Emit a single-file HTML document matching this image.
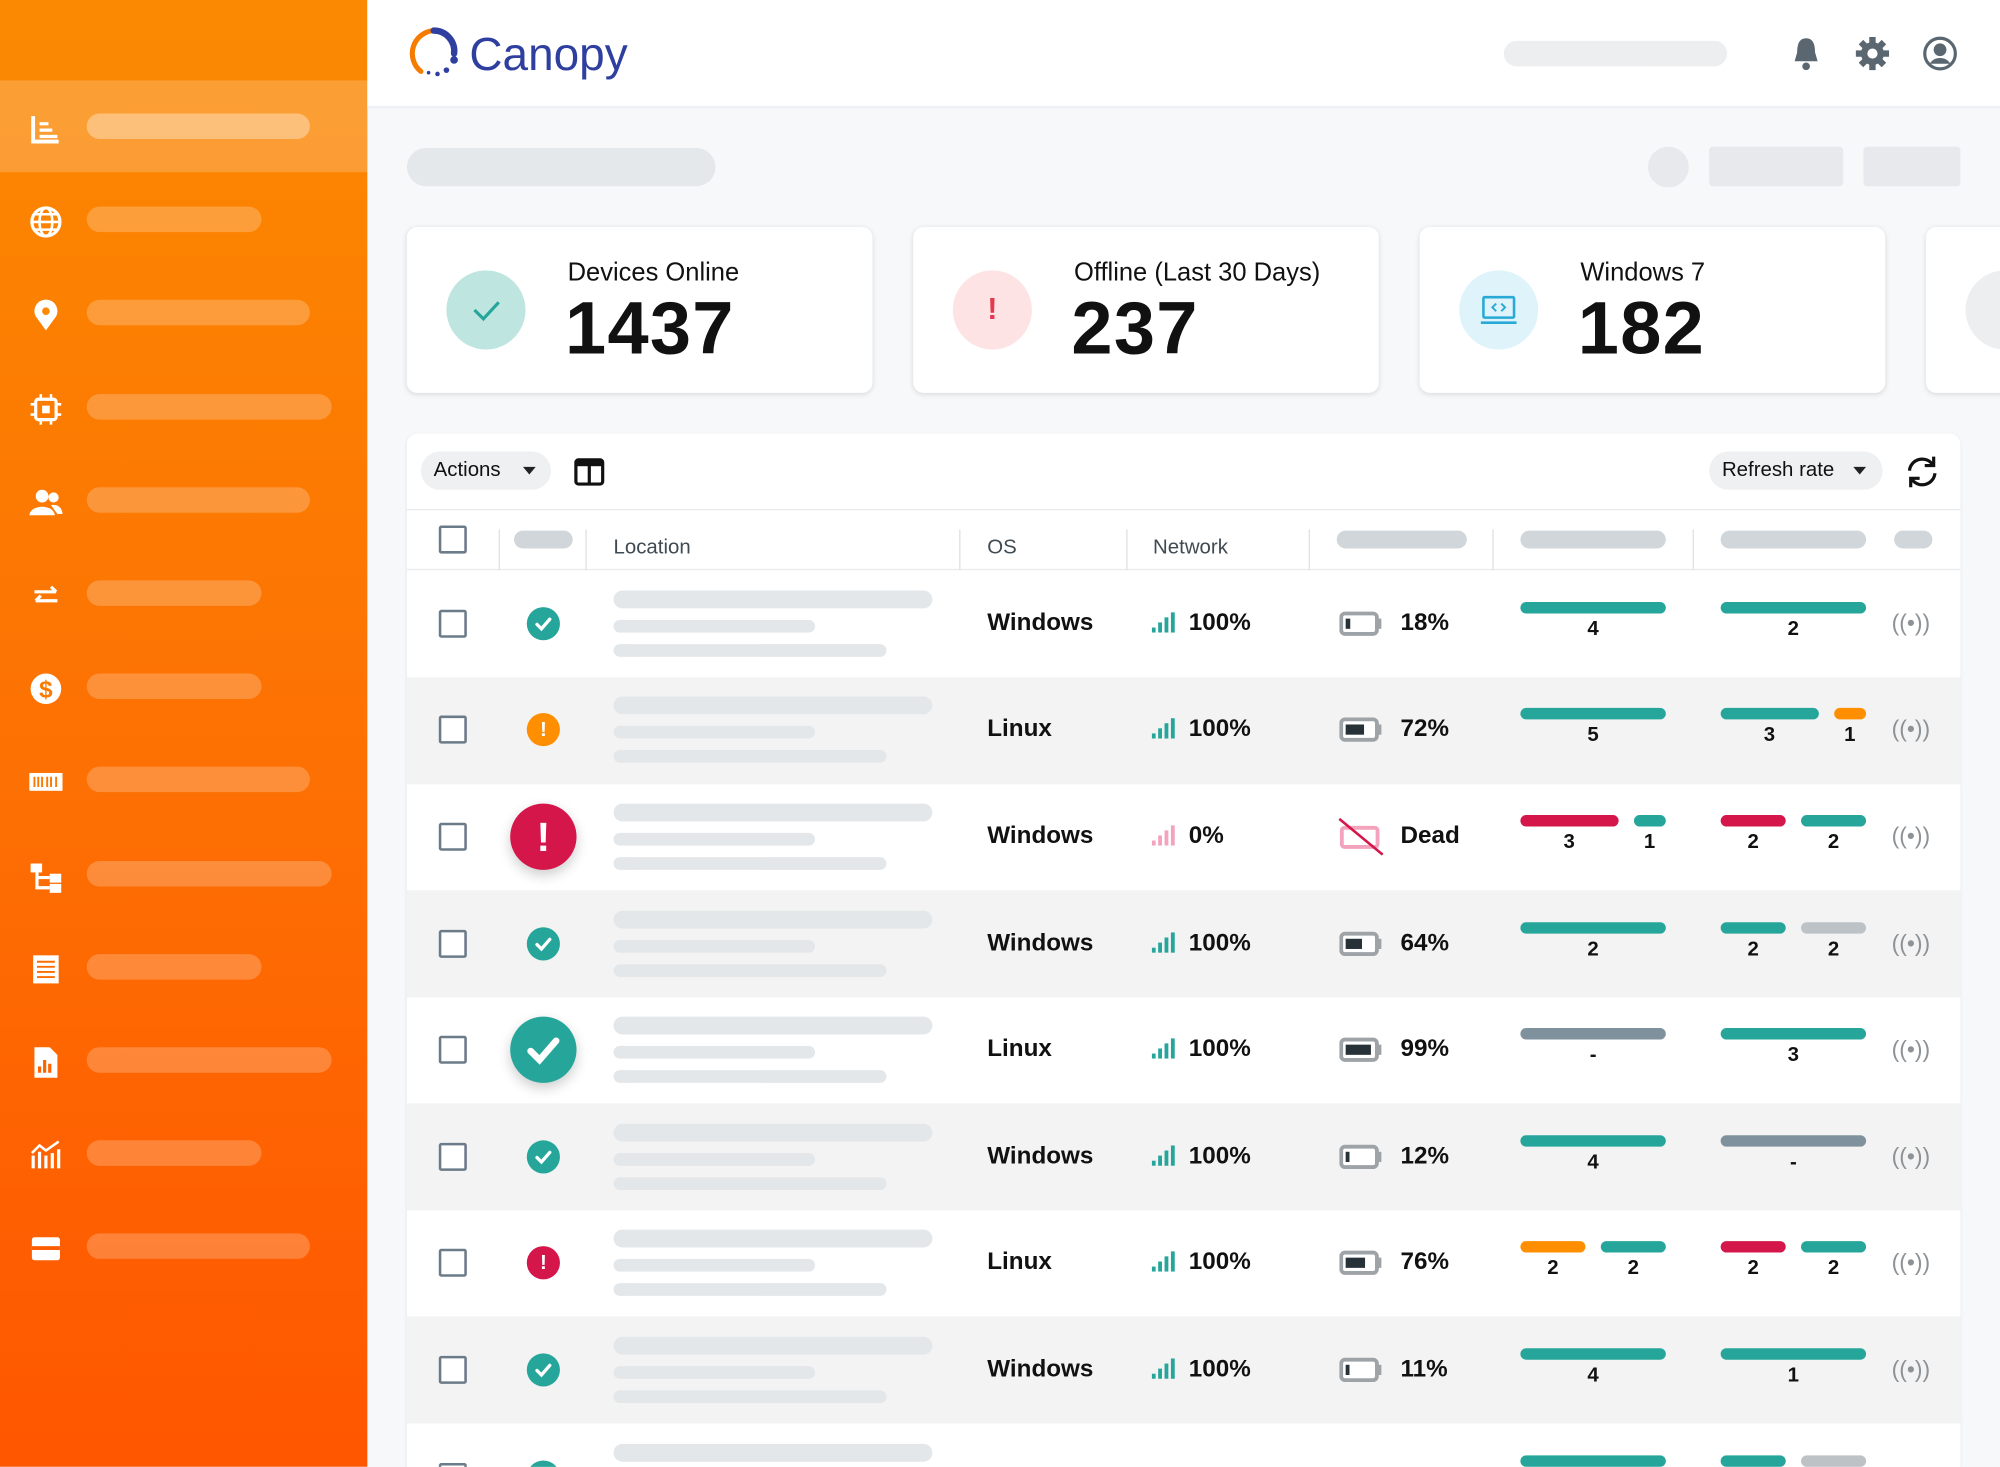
<!DOCTYPE html>
<html><head><meta charset="utf-8">
<style>
html,body{margin:0;padding:0;width:2000px;height:1467px;overflow:hidden;background:#f7f8fa;font-family:"Liberation Sans",sans-serif;}
#root{position:absolute;left:0;top:0;width:1568px;height:1150px;transform:scale(1.27551);transform-origin:0 0;background:#f7f8fa;overflow:hidden}
.abs{position:absolute}
.pill{position:absolute;border-radius:12px}
#side{position:absolute;left:0;top:0;width:288px;height:1150px;background:linear-gradient(180deg,#fb8a02 0%,#fd6f03 55%,#ff5600 100%)}
.mi{position:absolute;left:0;width:288px;height:40px}
.mi svg{position:absolute;left:22px;top:8px}
.mi .pill{left:68px;top:10px;height:20px;background:rgba(255,255,255,0.22);border-radius:10px}
#hdr{position:absolute;left:288px;top:0;width:1280px;height:83px;background:#fff;border-bottom:2px solid #eef0f3}
.card{position:absolute;top:178px;width:365px;height:130px;background:#fff;border-radius:8px;box-shadow:0 1px 4px rgba(0,0,0,0.12)}
.card .ic{position:absolute;left:31px;top:34px;width:62px;height:62px;border-radius:50%}
.card .t{position:absolute;left:126px;top:25px;font-size:20px;color:#111}
.card .n{position:absolute;left:124px;top:46px;font-size:58px;font-weight:bold;color:#111;letter-spacing:1px}
#panel{position:absolute;left:319px;top:340px;width:1218px;height:830px;background:#fff;border-radius:8px;box-shadow:0 1px 3px rgba(0,0,0,0.08);overflow:hidden}
.row{position:absolute;left:0;width:1218px;height:84px}
.cb{position:absolute;width:18px;height:18px;border:2.5px solid #6b7b88;border-radius:2px}
.txt{position:absolute;font-size:19px;font-weight:bold;color:#111;transform:translateY(-50%)}
.sk{position:absolute;background:#e4e7ea;border-radius:8px}
.hs{position:absolute;top:16px;width:1px;height:32px;background:#dde1e4}
.ht{position:absolute;top:22px;font-size:16px;color:#3f4a52}
</style></head><body>
<div id="root">
<div id="side">
  <div class="abs" style="left:0;top:63px;width:288px;height:72px;background:rgba(255,255,255,0.2)"></div>
</div>
<div id="hdr">
  <div class="abs" style="left:30px;top:18px">
    <svg width="48" height="48" viewBox="0 0 48 48"><path d="M12 38 A18 18 0 0 1 22 6" stroke="#f57c00" stroke-width="4" fill="none" stroke-linecap="round"/><path d="M22 6 A16 16 0 0 1 38 24" stroke="#2f3fa0" stroke-width="5" fill="none" stroke-linecap="round"/><circle cx="38" cy="29" r="3" fill="#2f3fa0"/><circle cx="32" cy="37" r="2.2" fill="#2f3fa0"/><circle cx="25" cy="40" r="1.8" fill="#2f3fa0"/><circle cx="18" cy="39" r="1.4" fill="#2f3fa0"/></svg>
    <span class="abs" style="left:50px;top:4px;font-size:36px;color:#2f3fa0;white-space:nowrap">Canopy</span>
  </div>
  <div class="pill" style="left:891px;top:32px;width:175px;height:20px;background:#eceef0;border-radius:10px"></div>
  <svg class="abs" style="left:1116px;top:28px" width="24" height="28" viewBox="0 0 24 28"><path d="M12 2 C6 2 5 8 5 13 L3 20 H21 L19 13 C19 8 18 2 12 2Z" fill="#5a6670"/><circle cx="12" cy="24" r="3" fill="#5a6670"/></svg>
  <svg class="abs" style="left:1166px;top:28px" width="28" height="28" viewBox="0 0 28 28"><circle cx="14" cy="14" r="9" fill="#5a6670"/><g stroke="#5a6670" stroke-width="5"><line x1="14" y1="1" x2="14" y2="27"/><line x1="1" y1="14" x2="27" y2="14"/><line x1="5" y1="5" x2="23" y2="23"/><line x1="23" y1="5" x2="5" y2="23"/></g><circle cx="14" cy="14" r="4" fill="#fff"/></svg>
  <svg class="abs" style="left:1219px;top:28px" width="28" height="28" viewBox="0 0 28 28"><circle cx="14" cy="14" r="12" fill="none" stroke="#5a6670" stroke-width="2.5"/><circle cx="14" cy="11" r="5" fill="#5a6670"/><path d="M6 22 C9 16 19 16 22 22" fill="#5a6670"/></svg>
</div>
<div class="pill" style="left:319px;top:116px;width:242px;height:30px;background:#e5e8eb;border-radius:15px"></div>
<div class="abs" style="left:1292px;top:115px;width:32px;height:32px;border-radius:50%;background:#e7e9ec"></div>
<div class="abs" style="left:1340px;top:115px;width:105px;height:31px;background:#e7e9ec;border-radius:3px"></div>
<div class="abs" style="left:1461px;top:115px;width:76px;height:31px;background:#e7e9ec;border-radius:3px"></div>

<div class="card" style="left:319px">
  <div class="ic" style="background:#bfe5e1"><svg width="62" height="62"><path d="M22 31 L29 38 L41 25" stroke="#26a69a" stroke-width="2.5" fill="none"/></svg></div>
  <div class="t">Devices Online</div><div class="n">1437</div></div>
<div class="card" style="left:716px">
  <div class="ic" style="background:#fde3e3"><span class="abs" style="left:27px;top:17px;font-size:24px;font-weight:bold;color:#e53950">!</span></div>
  <div class="t">Offline (Last 30 Days)</div><div class="n">237</div></div>
<div class="card" style="left:1113px">
  <div class="ic" style="background:#dff3fb"><svg width="62" height="62"><rect x="19" y="21" width="24" height="16" rx="1" fill="none" stroke="#29a9d6" stroke-width="2"/><line x1="17" y1="41" x2="45" y2="41" stroke="#29a9d6" stroke-width="2"/><path d="M29 26 L26 29 L29 32 M33 26 L36 29 L33 32" stroke="#29a9d6" stroke-width="1.5" fill="none"/></svg></div>
  <div class="t">Windows 7</div><div class="n">182</div></div>
<div class="card" style="left:1510px">
  <div class="ic" style="background:#eceef0"></div></div>

<div id="panel">
  <div class="abs" style="left:11px;top:14px;width:102px;height:30px;background:#eef0f2;border-radius:15px">
    <span class="abs" style="left:10px;top:6px;font-size:16px;color:#111">Actions</span>
    <span class="abs" style="left:80px;top:12px;width:0;height:0;border-left:5px solid transparent;border-right:5px solid transparent;border-top:6px solid #222"></span>
  </div>
  <svg class="abs" style="left:131px;top:19px" width="24" height="22"><rect x="1.5" y="1.5" width="21" height="19" rx="2" fill="none" stroke="#111" stroke-width="2.5"/><rect x="1.5" y="1.5" width="21" height="5" fill="#111"/><line x1="12" y1="3" x2="12" y2="20" stroke="#111" stroke-width="2.5"/></svg>
  <div class="abs" style="left:1021px;top:14px;width:136px;height:30px;background:#eef0f2;border-radius:15px">
    <span class="abs" style="left:10px;top:6px;font-size:16px;color:#111">Refresh rate</span>
    <span class="abs" style="left:113px;top:12px;width:0;height:0;border-left:5px solid transparent;border-right:5px solid transparent;border-top:6px solid #222"></span>
  </div>
  <svg class="abs" style="left:1174px;top:16px" width="28" height="28" viewBox="0 0 28 28"><path d="M4 13 A10 10 0 0 1 22 8" stroke="#111" stroke-width="2.5" fill="none"/><path d="M23 2 V9 H16" stroke="#111" stroke-width="2.5" fill="none"/><path d="M24 15 A10 10 0 0 1 6 20" stroke="#111" stroke-width="2.5" fill="none"/><path d="M5 26 V19 H12" stroke="#111" stroke-width="2.5" fill="none"/></svg>
  <div class="abs" style="left:0;top:59px;width:1218px;height:1px;background:#e8eaec"></div>
  <div class="abs" id="thead" style="left:0;top:59px;width:1218px;height:47px;border-bottom:1px solid #e8eaec">
    <div class="cb" style="left:25px;top:13px;background:#fff"></div>
    <div class="hs" style="left:72px"></div>
    <div class="sk" style="left:84px;top:17px;width:46px;height:14px;background:#d0d6da"></div>
    <div class="hs" style="left:140px"></div>
    <div class="ht" style="left:162px">Location</div>
    <div class="hs" style="left:433px"></div>
    <div class="ht" style="left:455px">OS</div>
    <div class="hs" style="left:564px"></div>
    <div class="ht" style="left:585px">Network</div>
    <div class="hs" style="left:707px"></div>
    <div class="sk" style="left:729px;top:17px;width:102px;height:14px;background:#d0d6da"></div>
    <div class="hs" style="left:851px"></div>
    <div class="sk" style="left:873px;top:17px;width:114px;height:14px;background:#d0d6da"></div>
    <div class="hs" style="left:1008px"></div>
    <div class="sk" style="left:1030px;top:17px;width:114px;height:14px;background:#d0d6da"></div>
    <div class="sk" style="left:1166px;top:17px;width:30px;height:14px;background:#d0d6da"></div>
  </div>
  <div id="tbody"></div>
</div>
</div>
<script>
// sidebar menu
const menuWidths=[175,137,175,192,175,137,137,175,192,137,192,137,175];
const side=document.getElementById('side');
const icons=[
'<path d="M4 4 V24 H24" stroke="#fff" stroke-width="3" fill="none"/><path d="M9 10 H16 M9 15 H19 M9 20 H23" stroke="#fff" stroke-width="2.5"/>',
'<circle cx="14" cy="14" r="11" stroke="#fff" stroke-width="2.5" fill="none"/><ellipse cx="14" cy="14" rx="5" ry="11" stroke="#fff" stroke-width="2" fill="none"/><path d="M3 14 H25 M5 8 H23 M5 20 H23" stroke="#fff" stroke-width="2"/>',
'<path d="M14 26 L6 15 A9 9 0 1 1 22 15 Z" fill="#fff"/><circle cx="14" cy="11" r="3" fill="#fb8a02"/>',
'<rect x="6" y="6" width="16" height="16" rx="2" stroke="#fff" stroke-width="2.5" fill="none"/><rect x="11" y="11" width="6" height="6" fill="#fff"/><path d="M10 2V6 M18 2V6 M10 22V26 M18 22V26 M2 10H6 M2 18H6 M22 10H26 M22 18H26" stroke="#fff" stroke-width="2"/>',
'<circle cx="11" cy="9" r="5" fill="#fff"/><circle cx="20" cy="10" r="4" fill="#fff"/><path d="M1 24 C2 15 20 15 21 24Z M18 16 C24 15 27 19 27 23 H23" fill="#fff"/>',
'<path d="M5 11 H22 M18 7 L22 11 M23 18 H6 M10 14 L6 18" stroke="#fff" stroke-width="2.5" fill="none"/>',
'<circle cx="14" cy="14" r="12" fill="#fff"/><text x="14" y="21" text-anchor="middle" font-size="19" font-weight="bold" fill="#fb7a02" font-family="Liberation Sans">$</text>',
'<rect x="1" y="7" width="26" height="14" fill="#fff"/><path d="M5 10V18 M8 10V18 M11 10V18 M15 10V18 M18 10V18 M22 10V18" stroke="#fb7a02" stroke-width="1.5"/>',
'<rect x="2" y="4" width="9" height="7" fill="#fff"/><rect x="17" y="12" width="9" height="7" fill="#fff"/><rect x="17" y="20" width="9" height="7" fill="#fff"/><path d="M7 11V23H17 M7 15H17" stroke="#fff" stroke-width="2.5" fill="none"/>',
'<rect x="4" y="3" width="20" height="22" fill="#fff"/><path d="M7 8H21 M7 12H21 M7 16H21 M7 20H21" stroke="#fb6f02" stroke-width="1.5"/>',
'<path d="M5 2 H17 L23 8 V26 H5Z" fill="#fff"/><path d="M9 22V17 M13 22V12 M17 22V15" stroke="#fd6402" stroke-width="2.5"/>',
'<path d="M4 24V14 M9 24V11 M14 24V14 M19 24V12 M24 24V9" stroke="#fff" stroke-width="2.5"/><path d="M3 12 L9 6 L14 10 L24 3" stroke="#fff" stroke-width="2" fill="none"/>',
'<rect x="3" y="5" width="22" height="18" rx="2" fill="#fff"/><rect x="3" y="12" width="22" height="3" fill="#fe5c00"/>'
];
const menuNames=['reports','network','locations','devices','users','transfers','billing','inventory','topology','logs','analytics','performance','store'];
menuWidths.forEach((w,i)=>{
  const d=document.createElement('div');d.className='mi';d.style.top=(79+i*73.2)+'px';
  
  
  d.innerHTML='<svg width="28" height="28" viewBox="0 0 28 28">'+icons[i]+'</svg><div class="pill" style="width:'+w+'px;'+(i==0?'background:rgba(255,255,255,0.35)':'')+'"></div>';
  side.appendChild(d);
});

// table data
const statuses=['ok','warn','errorBig','ok','okBig','ok','error','ok','ok'];
const osNames=['Windows','Linux','Windows','Windows','Linux','Windows','Linux','Windows','Windows'];
const networkPct=[100,100,0,100,100,100,100,100,100];
const batteryPct=[18,72,null,64,99,12,76,11,50];
const colAValues=[[4],[5],[3,1],[2],[null],[4],[2,2],[4],[4]];
const colAColors=[['teal'],['teal'],['red','teal'],['teal'],['grey'],['teal'],['orange','teal'],['teal'],['teal']];
const colBValues=[[2],[3,1],[2,2],[2,2],[3],[null],[2,2],[1],[2,2]];
const colBColors=[['teal'],['teal','orange'],['red','teal'],['teal','light'],['teal'],['grey'],['red','teal'],['teal'],['teal','light']];
const palette={teal:'#26a69a',red:'#d4164a',orange:'#ff8f00',grey:'#7f919c',light:'#bdc2c6'};

const tbody=document.getElementById('tbody');
const rowTop=107, rowH=83.6;
function barGroup(vals,cols,x0,width,cy){
  let h='';const gap=12;const n=vals.length;
  const total=vals.reduce((a,b)=>a+(b||1),0);
  const avail=width-gap*(n-1);let x=x0;
  vals.forEach((v,k)=>{
    const w=avail*((v||1)/total);
    h+='<div class="abs" style="left:'+x+'px;top:'+(cy-17)+'px;width:'+w+'px;height:9px;border-radius:5px;background:'+palette[cols[k]]+'"></div>';
    h+='<div class="abs" style="left:'+x+'px;top:'+(cy-4)+'px;width:'+w+'px;text-align:center;font-size:16px;font-weight:bold;color:#111">'+(v===null?'-':v)+'</div>';
    x+=w+gap;
  });
  return h;
}
statuses.forEach((st,i)=>{
  const r=document.createElement('div');r.className='row';
  const top=rowTop+i*rowH;r.style.top=top+'px';
  if(i%2==1) r.style.background='#f3f3f3';
  
  
  const cy=rowH/2;
  let h='<div class="cb" style="left:25px;top:'+(cy-11)+'px;background:#fff"></div>';
  // status
  if(st=='ok'||st=='okBig'){
    const s=st=='ok'?26:52;
    h+='<div class="abs" style="left:'+(107-s/2)+'px;top:'+(cy-s/2)+'px;width:'+s+'px;height:'+s+'px;border-radius:50%;background:#26a69a;'+(st=='okBig'?'box-shadow:0 4px 10px rgba(0,0,0,0.2)':'')+'"><svg width="'+s+'" height="'+s+'" viewBox="0 0 26 26"><path d="M8 13.5 L11.5 17 L18 9.5" stroke="#fff" stroke-width="2.6" fill="none" stroke-linecap="round"/></svg></div>';
  } else {
    const s=st=='errorBig'?52:26;const c=st=='warn'?'#ff8f00':'#d4164a';
    h+='<div class="abs" style="left:'+(107-s/2)+'px;top:'+(cy-s/2)+'px;width:'+s+'px;height:'+s+'px;border-radius:50%;background:'+c+';color:#fff;font-weight:bold;text-align:center;line-height:'+s+'px;font-size:'+(s*0.62)+'px;'+(st=='errorBig'?'box-shadow:0 4px 10px rgba(0,0,0,0.2)':'')+'">!</div>';
  }
  // location skeleton
  h+='<div class="sk" style="left:162px;top:'+(cy-26)+'px;width:250px;height:14px"></div>';
  h+='<div class="sk" style="left:162px;top:'+(cy-3)+'px;width:158px;height:10px"></div>';
  h+='<div class="sk" style="left:162px;top:'+(cy+16)+'px;width:214px;height:10px"></div>';
  if(i<8){
  h+='<div class="txt" style="left:455px;top:'+cy+'px">'+osNames[i]+'</div>';
  const nc=networkPct[i]>0?'#26a69a':'#f4a3bd';
  let sig='<svg class="abs" style="left:584px;top:'+(cy-9)+'px" width="20" height="16">';
  for(let b=0;b<4;b++){const bh=4+b*4;sig+='<rect x="'+(b*5)+'" y="'+(16-bh)+'" width="3" height="'+bh+'" fill="'+nc+'"/>';}
  h+=sig+'</svg>';
  h+='<div class="txt" style="left:613px;top:'+cy+'px">'+networkPct[i]+'%</div>';
  if(batteryPct[i]===null){
    h+='<svg class="abs" style="left:729px;top:'+(cy-16)+'px" width="40" height="32"><rect x="4" y="9" width="28" height="15" rx="2" fill="none" stroke="#f4a3bd" stroke-width="3"/><line x1="2" y1="2" x2="36" y2="30" stroke="#d4164a" stroke-width="2"/></svg>';
    h+='<div class="txt" style="left:779px;top:'+cy+'px">Dead</div>';
  } else {
    const fw=Math.max(3,20*batteryPct[i]/100);
    h+='<svg class="abs" style="left:731px;top:'+(cy-10)+'px" width="34" height="20"><rect x="1.5" y="2" width="28" height="16" rx="3" fill="#fff" stroke="#9ea3a7" stroke-width="3"/><rect x="30" y="6" width="3" height="8" fill="#9ea3a7"/><rect x="5" y="6" width="'+fw+'" height="8" fill="#263238"/></svg>';
    h+='<div class="txt" style="left:779px;top:'+cy+'px">'+batteryPct[i]+'%</div>';
  }
  h+=barGroup(colAValues[i],colAColors[i],873,114,cy);
  h+=barGroup(colBValues[i],colBColors[i],1030,114,cy);
  h+='<div class="txt" style="left:1164px;top:'+cy+'px;color:#8d9296;font-weight:normal;font-size:18px">((•))</div>';
  } else {
    h+=barGroup(colAValues[i],colAColors[i],873,114,cy);
    h+=barGroup(colBValues[i],colBColors[i],1030,114,cy);
  }
  r.innerHTML=h;tbody.appendChild(r);
});
</script>
</body></html>
